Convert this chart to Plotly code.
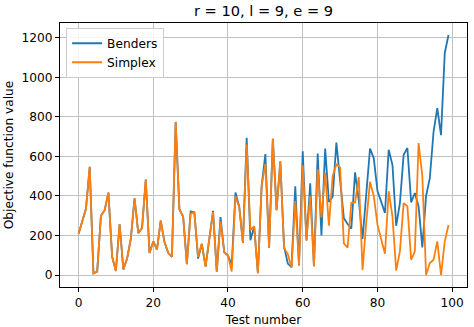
import plotly.graph_objects as go

test_number = list(range(100))

benders = [208, 275, 335, 548, 8, 17, 300, 328, 417, 92,
           20, 258, 28, 83, 183, 388, 212, 238, 483, 112,
           170, 128, 275, 167, 112, 92, 775, 333, 295, 55,
           322, 317, 83, 158, 42, 183, 325, 17, 293, 115,
           98, 52, 418, 347, 162, 695, 176, 246, 9, 450,
           612, 137, 690, 328, 575, 143, 58, 40, 449, 48,
           626, 175, 464, 44, 615, 200, 640, 370, 395, 670,
           470, 288, 258, 235, 520, 378, 182, 420, 640, 592,
           425, 370, 314, 634, 558, 249, 364, 609, 643, 368,
           415, 347, 140, 400, 490, 725, 845, 708, 1124, 1215]

simplex = [208, 275, 335, 548, 8, 17, 300, 328, 417, 92,
           20, 258, 28, 83, 183, 388, 212, 238, 483, 112,
           170, 128, 275, 167, 112, 92, 775, 333, 295, 55,
           312, 317, 92, 158, 42, 183, 318, 17, 271, 115,
           98, 18, 398, 345, 162, 660, 227, 246, 9, 450,
           562, 137, 690, 328, 575, 137, 106, 37, 375, 48,
           555, 175, 400, 44, 535, 290, 518, 250, 500, 560,
           545, 160, 138, 365, 367, 495, 25, 270, 472, 400,
           255, 180, 108, 424, 297, 23, 120, 364, 348, 77,
           120, 668, 500, 0, 61, 77, 170, 0, 170, 253]

font = "DejaVu Sans"

fig = go.Figure()
fig.add_trace(go.Scatter(x=test_number, y=benders, mode="lines", name="Benders",
                         line=dict(color="#1f77b4", width=1.8)))
fig.add_trace(go.Scatter(x=test_number, y=simplex, mode="lines", name="Simplex",
                         line=dict(color="#ff7f0e", width=1.8)))

axis_common = dict(showline=True, linecolor="black", linewidth=1, mirror=True,
                   ticks="outside", ticklen=4, tickcolor="black", tickwidth=1,
                   showgrid=True, gridcolor="#c0c0c0", gridwidth=1,
                   zeroline=False, automargin=False,
                   tickfont=dict(family=font, size=12.2, color="black"))

fig.update_layout(
    width=474, height=327,
    margin=dict(l=60, r=7, t=23, b=40),
    paper_bgcolor="white", plot_bgcolor="white",
    font=dict(family=font, size=12.2, color="black"),
    title=dict(text="r = 10, l = 9, e = 9", x=0.5, xref="paper", xanchor="center",
               y=1 - 11 / 327, yref="container", yanchor="middle",
               font=dict(family=font, size=14.6, color="black")),
    xaxis=dict(range=[-4.95, 103.95], tickvals=[0, 20, 40, 60, 80, 100],
               title=dict(text="Test number", standoff=6,
                          font=dict(family=font, size=12.2, color="black")),
               **axis_common),
    yaxis=dict(range=[-60.75, 1275.75], tickvals=[0, 200, 400, 600, 800, 1000, 1200],
               title=dict(text="Objective function value", standoff=5,
                          font=dict(family=font, size=12.2, color="black")),
               **axis_common),
    legend=dict(x=0.015, y=0.982, xanchor="left", yanchor="top",
                bgcolor="rgba(255,255,255,0.85)", bordercolor="#cccccc", borderwidth=1,
                font=dict(family=font, size=12.2, color="black"),
                tracegroupgap=0),
    showlegend=True,
)

fig.write_html("out.html")
